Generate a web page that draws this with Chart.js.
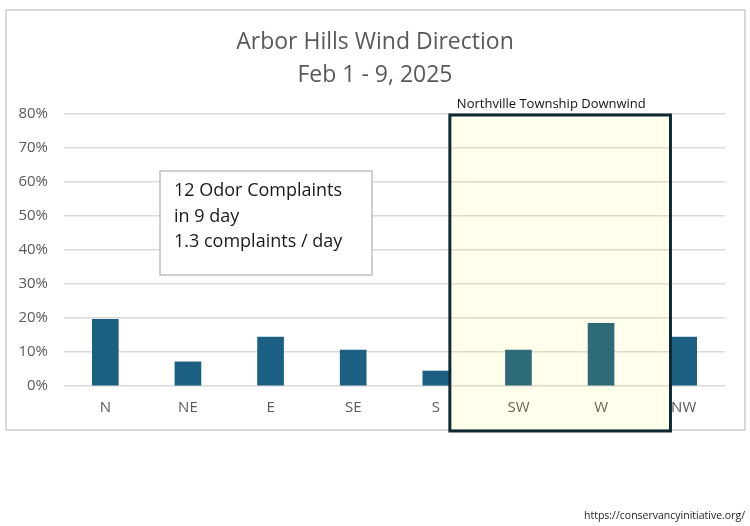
<!DOCTYPE html>
<html>
<head>
<meta charset="utf-8">
<script src="https://cdn.jsdelivr.net/npm/chart.js@4"></script>
<style>
  html, body { margin: 0; padding: 0; background: #fff; }
  #wrap { width: 750px; height: 526px; position: relative; }
</style>
</head>
<body>
<div id="wrap"><canvas id="chart1"></canvas></div>
<script>
// wind direction share, Feb 1 - 9, 2025
var directions = ["N", "NE", "E", "SE", "S", "SW", "W", "NW"];
var windShare = [19.6, 7.1, 14.4, 10.6, 4.4, 10.6, 18.4, 14.4];
var yTicks = [0, 10, 20, 30, 40, 50, 60, 70, 80];
var titleLines = ["Arbor Hills Wind Direction", "Feb 1 - 9, 2025"];
var noteLines = ["12 Odor Complaints", "in 9 day", "1.3 complaints / day"];
var downwindLabel = "Northville Township Downwind";
var downwindFrom = 4.17, downwindTo = 6.84;   // category positions of the shaded box
var sourceText = "https://conservancyinitiative.org/";

var FONT = "'Open Sans', sans-serif";

var extras = {
    id: "extras",
    beforeDraw: function (chart) {
        var ctx = chart.ctx;
        ctx.save();
        ctx.fillStyle = "#fff";
        ctx.fillRect(0, 0, chart.width, chart.height);
        ctx.strokeStyle = "#d9d9d9";
        ctx.lineWidth = 2;
        ctx.strokeRect(6, 10, 739, 420);
        // title, centred on the frame
        ctx.fillStyle = "#595959";
        ctx.font = "23px " + FONT;
        ctx.textAlign = "center";
        ctx.textBaseline = "middle";
        ctx.fillText(titleLines[0], 375, 42);
        ctx.fillText(titleLines[1], 375, 75);
        ctx.restore();
    },
    afterDatasetsDraw: function (chart) {
        var ctx = chart.ctx;
        var xs = chart.scales.x, ys = chart.scales.y;
        ctx.save();
        // downwind box
        var x1 = xs.getPixelForValue(downwindFrom);
        var x2 = xs.getPixelForValue(downwindTo);
        var y1 = ys.getPixelForValue(80) + 1;
        var y2 = 431;
        ctx.fillStyle = "rgba(255,255,0,0.08)";
        ctx.fillRect(x1, y1, x2 - x1, y2 - y1);
        ctx.strokeStyle = "#0e2a33";
        ctx.lineWidth = 3;
        ctx.strokeRect(x1, y1, x2 - x1, y2 - y1);
        ctx.fillStyle = "#111";
        ctx.font = "13px " + FONT;
        ctx.textBaseline = "middle";
        ctx.fillText(downwindLabel, x1 + 7, y1 - 11);

        // note box
        ctx.fillStyle = "#fff";
        ctx.fillRect(160, 171, 212, 104);
        ctx.strokeStyle = "#bfbfbf";
        ctx.lineWidth = 1.5;
        ctx.strokeRect(160, 171, 212, 104);
        ctx.fillStyle = "#1a1a1a";
        ctx.font = "18px " + FONT;
        for (var i = 0; i < noteLines.length; i++) {
            ctx.fillText(noteLines[i], 174, 191 + i * 25.5);
        }

        // source
        ctx.font = "10.5px " + FONT;
        ctx.textAlign = "right";
        ctx.fillStyle = "#222";
        ctx.fillText(sourceText, 745, 516);
        ctx.restore();
    }
};

new Chart(document.getElementById("chart1"), {
    type: "bar",
    data: {
        labels: directions,
        datasets: [{
            label: "Wind direction",
            data: windShare,
            backgroundColor: "#1b5f82",
            barThickness: 26
        }]
    },
    options: {
        responsive: true,
        maintainAspectRatio: false,
        animation: false,
        layout: { padding: { left: 0, right: 25, top: 114, bottom: 0 } },
        plugins: {
            legend: { display: false },
            tooltip: { enabled: false },
            title: { display: false }
        },
        scales: {
            x: {
                grid: { display: false, drawTicks: false },
                border: { display: false },
                ticks: { color: "#595959", font: { family: FONT, size: 15 }, padding: 13 },
                afterFit: function (s) { s.height = 140; }
            },
            y: {
                min: 0,
                max: 80,
                afterBuildTicks: function (s) { s.ticks = yTicks.map(function (v) { return { value: v }; }); },
                grid: { color: "#d9d9d9", lineWidth: 1.5, drawTicks: false },
                border: { display: false },
                ticks: {
                    color: "#595959",
                    font: { family: FONT, size: 15 },
                    padding: 16,
                    callback: function (v) { return v + "%"; }
                },
                afterFit: function (s) { s.width = 64; }
            }
        }
    },
    plugins: [extras]
});
</script>
</body>
</html>
